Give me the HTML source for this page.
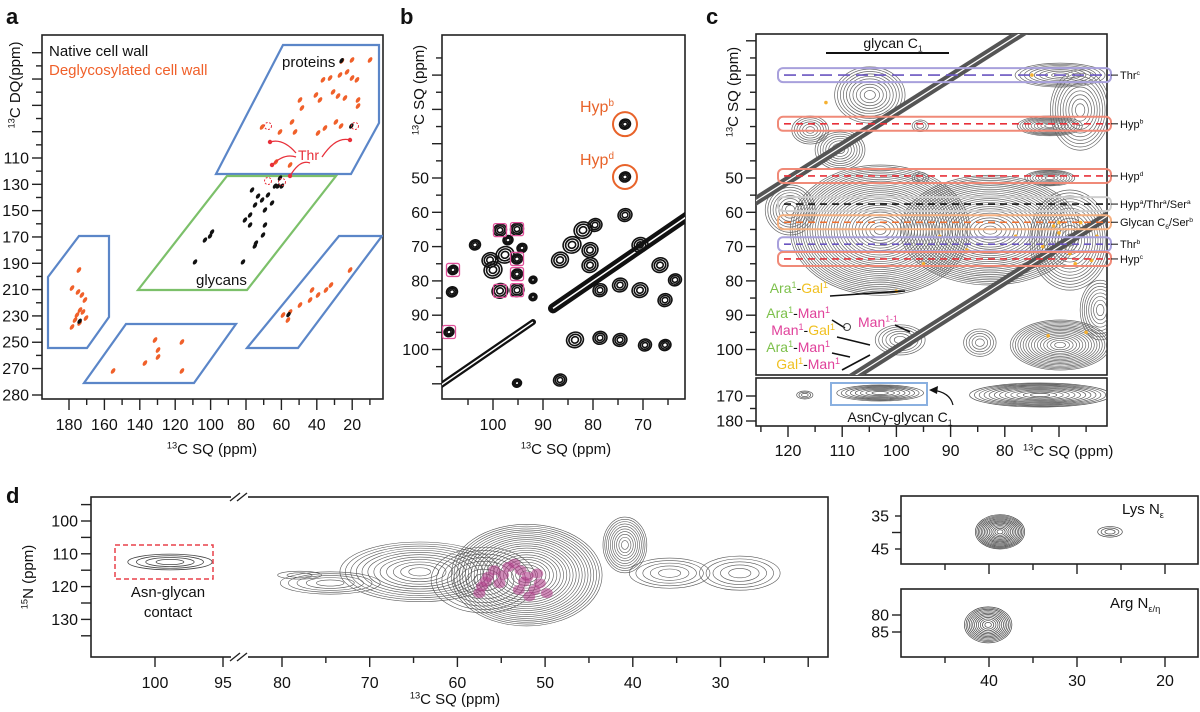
<!DOCTYPE html>
<html><head><meta charset="utf-8">
<style>
html,body{margin:0;padding:0;background:#fff;}
svg{display:block;font-family:"Liberation Sans",Arial,sans-serif;}
</style></head>
<body>
<svg id="fig" xmlns="http://www.w3.org/2000/svg" width="1200" height="712" viewBox="0 0 1200 712">
<defs>
<clipPath id="clipA"><rect x="42" y="35" width="341" height="364"/></clipPath>
<clipPath id="clipB"><rect x="442" y="35" width="243" height="364"/></clipPath>
<clipPath id="clipC"><rect x="756" y="34" width="351" height="341"/></clipPath>
<clipPath id="clipC2"><rect x="756" y="378" width="351" height="48"/></clipPath>
<clipPath id="clipD"><rect x="91" y="497" width="737" height="160"/></clipPath>
</defs>
<g id="panelA"></g>
<g id="panelB"></g>
<g id="panelC"></g>
<g id="panelD"></g>
<g id="panelE"></g>
</svg>
<script>
// ---------------- DATA ----------------
const aOrangeX = [25.8,20.1,9.9,36.5,32.5,26.9,22.9,20.1,17.3,30.8,28.0,24.1,40.5,49.5,48.4,38.2,16.7,16.7,54.0,29.2,26.3,35.4,52.3,60.8,39.3,70.9,63.1,55.1,
  174.4,178.3,174.9,172.7,171.0,173.8,175.5,172.1,170.4,176.6,174.0,178.3,
  59.1,55.1,49.5,43.8,39.3,34.8,32.0,42.7,21.2,56.3,
  131.4,129.7,116.2,129.7,155.1,116.2,137.1];
const aOrangeY = [36.3,35.5,35.5,50.6,49.2,46.9,44.6,49.2,50.6,59.8,62.9,64.4,62.1,65.9,72.0,65.9,65.9,70.5,82.6,82.6,85.7,87.2,90.2,90.2,91.0,86.4,113.0,115.3,
  195.1,208.8,211.8,214.1,217.9,225.5,229.3,227.0,231.6,233.1,235.4,238.4,
  229.3,227.0,221.7,217.9,214.1,210.3,206.5,210.3,195.1,233.1,
  248.3,255.9,249.8,261.2,271.1,271.1,265.8];
const aBlackX = [76.6,73.2,70.9,67.6,65.3,63.6,61.9,74.9,69.3,77.7,80.6,77.7,69.3,99.2,103.2,100.3,70.4,74.4,75.0,108.8,81.7,59.7,60.8,26.0,20.5,174.0,56.0];
const aBlackY = [134.3,138.9,141.9,138.1,144.2,131.3,131.3,145.7,149.5,153.3,157.1,160.9,160.9,166.2,172.3,169.3,168.5,174.6,176.9,189.0,189.0,131.3,125.2,36.0,85.7,234.0,229.0];
const aXTicks = [180,160,140,120,100,80,60,40,20];
const aXMinor = [170,150,130,110,90,70,50,30,10];
const aYTicks = [30,50,70,90,110,130,150,170,190,210,230,250,270,280];
const aYLabels = ["","","","","110","130","150","170","190","210","230","250","270","280"];
const bPeakX = [98.6,95.2,95.2,95.2,95.2,98.6,108,108.8,103.6,100.6,97.6,100,108.2,97,94.2,92,92,82,79.6,84.2,80.6,86.6,80.6,73.6,70.6,66.6,78.6,74.6,70.6,63.6,65.6,83.6,78.6,74.6,69.6,65.6,95.2,86.6,73.6,73.6];
const bPeakY = [65.2,64.9,73.6,78.0,82.7,82.9,76.8,94.9,69.5,73.9,72.4,76.8,83.2,68.1,70.4,79.7,84.7,65.2,63.7,69.5,71.0,73.9,75.4,60.8,69.5,75.4,82.7,81.2,82.7,79.7,85.6,97.2,96.6,97.2,98.7,98.7,109.8,108.9,34.3,49.7];
const bPeakSize = [1.3,1.3,1.1,1.1,1.4,1.6,1,1,1.1,1.6,1.8,1.8,1.1,1,1,0.8,0.8,1.8,1.4,1.8,1.6,1.7,1.6,1.4,1.6,1.6,1.4,1.5,1.6,1.3,1.4,1.7,1.4,1.4,1.3,1.2,0.9,1.3,1.1,1.1];
const bPink = [[98.6,65.2],[95.2,64.9],[95.2,73.6],[95.2,78.0],[95.2,82.7],[98.6,82.9],[108,76.8],[108.8,94.9]];
const bXTicks = [100,90,80,70];
const bXMinor = [105,95,85,75,65];
const bYTicks = [15,20,25,30,35,40,45,50,55,60,65,70,75,80,85,90,95,100,105,110];
const cPeakX = [115.9,104.9,110.4,95.6,95.6,71.7,71.7,69.8,66.1,103,82.7,68,119.6,69.8,62.4,99.3,84.6];
const cPeakY = [36.0,25.8,41.8,34.8,50,34.8,50,20,30.2,65.2,65.2,68.1,59.3,98.7,88.5,97.2,98.0];
const cPeakRX = [3.4,6.5,4.6,1.5,1.5,6,4.6,8.3,5.5,16.6,16.6,7.4,4.6,9.2,3.7,4.6,3];
const cPeakRY = [4.1,8.2,5.8,1.7,1.7,2.9,2.3,3.5,11.7,19,16,14.6,7.3,7.3,8.7,4.4,4];
const cPeakLv = [6,10,8,3,3,10,8,8,10,30,26,14,8,16,8,6,5];
const cLowX = [116.9,103,73.5];
const cLowY = [169.6,168.8,169.6];
const cLowRX = [1.5,8,13];
const cLowRY = [1.6,3.2,4.8];
const cLowLv = [3,8,12];
const cDotsX = [113,92,87,78,74,73,71,70,69,68,67,66,64,63,65,72,75,70,95,100];
const cDotsY = [28,67,71,67,73,70,64,66,70,72,75,63,74,67,95,96,20,63,75,83];
const cLines = ["Thr<sup>c</sup>","Hyp<sup>b</sup>","Hyp<sup>d</sup>","Hyp<sup>a</sup>/Thr<sup>a</sup>/Ser<sup>a</sup>","Glycan C<sub>6</sub>/Ser<sup>b</sup>","Thr<sup>b</sup>","Hyp<sup>c</sup>"];
const cLinePpm = [20,34.2,49.4,57.6,62.9,69.3,73.6];
const cXTicks = [120,110,100,90,80,70];
const cXMinor = [125,115,105,95,85,75,65];
const cYTicks = [10,15,20,25,30,35,40,45,50,55,60,65,70,75,80,85,90,95,100];
const dPeakX = [52.1,57.0,64.3,74.5,78.0,40.9,35.8,27.8];
const dPeakY = [116.5,118.0,115.5,118.9,116.5,107.3,115.9,115.9];
const dPeakRX = [8.6,6,9.1,5.7,2.5,2.5,4.6,4.6];
const dPeakRY = [15.5,10,9.1,3.4,1.2,8.5,4.6,5.2];
const dPeakLv = [22,8,12,5,2,10,5,5];
const dLeftX = [98.9], dLeftY = [112.5], dLeftRX = [3.1], dLeftRY = [2.4], dLeftLv = [4];
const dMagX = [56.5,57.2,55.8,57.5,56.8,55.2,52.0,51.2,52.8,54.2,50.6,53.5,51.8,52.4,50.9,53.0,54.8,49.8];
const dMagY = [117,120,115,122,118.5,119,117,121,115,114,119,113,123,118.5,116,121,116.5,122];
const dYTicks = [95,100,105,110,115,120,125,130,135];
const dXTicksR = [80,70,60,50,40,30,20];
const dXMinorR = [75,65,55,45,35,25];
const lysX = [38.75,26.25], lysY = [39.8,39.8], lysRX = [2.8,1.4], lysRY = [5.2,1.6], lysLv = [14,3];
const argX = [40.1], argY = [82.9], argRX = [2.7], argRY = [5.3], argLv = [12];
const eXTicks = [40,30,20], eXMinor = [45,35,25];

// ---------------- SCALES ----------------
const ax = v => 69 + (180 - v) * 1.77;
const ay = v => v <= 270 ? 158 + (v - 110) * 1.316 : 368 + (v - 270) * 2.7;
const bx = v => 493 + (100 - v) * 5;
const by = v => 178 + (v - 50) * 3.43;
const cx = v => 788 + (120 - v) * 5.42;
const cy = v => 178 + (v - 50) * 3.43;
const cy2 = v => 396 + (v - 170) * 2.5;
const dxL = v => 155 + (100 - v) * 13.6;
const dxR = v => 282 + (80 - v) * 8.77;
const dy = v => 521 + (v - 100) * 3.28;
const ex = v => 989 + (40 - v) * 8.8;
const etY = v => 516 + (v - 35) * 3.3;
const ebY = v => 615 + (v - 80) * 3.4;

// ---------------- HELPERS ----------------
const NS = "http://www.w3.org/2000/svg";
function mk(tag, attrs, parent) {
  const e = document.createElementNS(NS, tag);
  for (const k in attrs) e.setAttribute(k, attrs[k]);
  parent.appendChild(e);
  return e;
}
function txt(parent, x, y, html, size, color, anchor, extra) {
  const t = mk('text', Object.assign({x: x, y: y, 'font-size': size, fill: color || '#111', 'text-anchor': anchor || 'start'}, extra || {}), parent);
  const parts = html.split(/(<sup>.*?<\/sup>|<sub>.*?<\/sub>)/);
  parts.forEach(p => {
    if (!p) return;
    let s = mk('tspan', {}, t);
    if (p.startsWith('<sup>')) { s.textContent = p.slice(5, -6); s.setAttribute('font-size', size * 0.62); s.setAttribute('dy', -size * 0.38); const r = mk('tspan', {dy: size * 0.38, 'font-size': size}, t); r.textContent = '\u200b'; }
    else if (p.startsWith('<sub>')) { s.textContent = p.slice(5, -6); s.setAttribute('font-size', size * 0.62); s.setAttribute('dy', size * 0.25); const r = mk('tspan', {dy: -size * 0.25, 'font-size': size}, t); r.textContent = '\u200b'; }
    else s.textContent = p;
  });
  return t;
}
function contour(parent, x0, y0, rx, ry, lv, color, sw, rot) {
  for (let i = 0; i < lv; i++) {
    const f = Math.pow(1 - i / lv, 0.8);
    const e = mk('ellipse', {cx: x0, cy: y0, rx: Math.max(rx * f, 0.8), ry: Math.max(ry * f, 0.8), fill: 'none', stroke: color, 'stroke-width': sw, transform: 'rotate(' + (rot || 0) + ' ' + x0 + ' ' + y0 + ')'}, parent);
    
    
  }
}
function frame(parent, x, y, w, h, name) {
  const r = mk('rect', {x: x, y: y, width: w, height: h, fill: 'none', stroke: '#222', 'stroke-width': 1.6}, parent);
  
  
}
function xTicks(parent, vals, sc, y0, len, labels, ly, fs) {
  vals.forEach((v, i) => {
    const l = mk('line', {x1: sc(v), x2: sc(v), y1: y0, y2: y0 + len, stroke: '#222', 'stroke-width': 1.4}, parent);
    
    
    if (labels && labels[i] !== '') {
      const t = txt(parent, sc(v), ly, String(labels[i]), fs || 16, '#111', 'middle');
      
      
    }
  });
}
function yTicks(parent, vals, sc, x0, lenMaj, lenMin, labels, fs) {
  vals.forEach((v, i) => {
    const major = v % 10 === 0;
    const len = major ? lenMaj : lenMin;
    const l = mk('line', {x1: x0 - len, x2: x0, y1: sc(v), y2: sc(v), stroke: '#222', 'stroke-width': 1.4}, parent);
    
    
    if (labels && labels[i] !== undefined && labels[i] !== '') {
      const t = txt(parent, x0 - lenMaj - 3, sc(v) + 5.5, String(labels[i]), fs || 16, '#111', 'end');
      
      
    }
  });
}

// ---------------- PANEL A ----------------
const A = document.getElementById('panelA');
let t;
t = mk('text', {x: 6, y: 24, 'font-size': 22, 'font-weight': 'bold', fill: '#111'}, A); t.textContent = 'a';


t = txt(A, -85, 20, '<sup>13</sup>C DQ(ppm)', 15, '#111', 'middle', {transform: 'rotate(-90)'});


t = txt(A, 212, 454, '<sup>13</sup>C SQ (ppm)', 15, '#111', 'middle');


frame(A, 42, 35, 341, 364, 'plot-frame-a');
yTicks(A, aYTicks, ay, 42, 10, 10, aYLabels, 16);
const aMinorY = aYTicks.slice(0, -2).map(v => v + 10);
yTicks(A, aMinorY.map(v => v + 0.001), ay, 42, 6, 6, null);
xTicks(A, aXTicks, ax, 399, 11, aXTicks, 430, 16);
xTicks(A, aXMinor, ax, 399, 6, null);
const AC = mk('g', {'clip-path': 'url(#clipA)'}, A);
const polys = [
  ['protein-region', '#5b86c8', '216,174 283,45 379,45 379,123 351,174'],
  ['glycan-region', '#7cc06a', '138,290 227,176 336,176 247,290'],
  ['carbonyl-region', '#5b86c8', '48,277 48,348 87,348 109,317 109,236 79,236'],
  ['aromatic-region', '#5b86c8', '84,383 126,324 236,324 194,383'],
  ['aliphatic-region', '#5b86c8', '247,348 339,236 382,236 298,348']
];
polys.forEach(p => {
  const g = mk('polygon', {points: p[2], fill: 'none', stroke: p[1], 'stroke-width': 2.2}, AC);
  
  
});
aOrangeX.forEach((v, i) => {
  const e = mk('ellipse', {cx: ax(v), cy: ay(aOrangeY[i]), rx: 1.8, ry: 3.2, fill: '#f0602a', transform: 'rotate(35 ' + ax(v) + ' ' + ay(aOrangeY[i]) + ')'}, AC);
  
  
});
aBlackX.forEach((v, i) => {
  const e = mk('ellipse', {cx: ax(v), cy: ay(aBlackY[i]), rx: 1.8, ry: 3, fill: '#111', transform: 'rotate(35 ' + ax(v) + ' ' + ay(aBlackY[i]) + ')'}, AC);
  
  
});
t = txt(A, 49, 56, 'Native cell wall', 15, '#111');  
t = txt(A, 49, 75, 'Deglycosylated cell wall', 15, '#f0602a');  
t = txt(A, 282, 67, 'proteins', 15, '#111');  
t = txt(A, 196, 285, 'glycans', 15, '#111');  
t = txt(A, 298, 160, 'Thr', 14, '#e8303a');  
[[296,153,270,142],[296,157,272,165],[322,157,350,140],[310,163,290,176]].forEach(a => {
  const p = mk('path', {d: 'M' + a[0] + ',' + a[1] + ' Q' + ((a[0] + a[2]) / 2) + ',' + (Math.min(a[1], a[3]) - 4) + ' ' + a[2] + ',' + a[3], fill: 'none', stroke: '#e8303a', 'stroke-width': 1.3}, A);
  
  
  const h = mk('circle', {cx: a[2], cy: a[3], r: 2.2, fill: '#e8303a'}, A);
  
  
});
[[268,126],[355,126],[268,181],[282,182]].forEach(c => {
  const e = mk('circle', {cx: c[0], cy: c[1], r: 3.5, fill: 'none', stroke: '#e8303a', 'stroke-width': 1, 'stroke-dasharray': '2 1.5'}, A);
  
  
});

// ---------------- PANEL B ----------------
const B = document.getElementById('panelB');
t = mk('text', {x: 400, y: 24, 'font-size': 22, 'font-weight': 'bold', fill: '#111'}, B); t.textContent = 'b';


t = txt(B, -90, 424, '<sup>13</sup>C SQ (ppm)', 15, '#111', 'middle', {transform: 'rotate(-90)'});


t = txt(B, 566, 454, '<sup>13</sup>C SQ (ppm)', 15, '#111', 'middle');


frame(B, 442, 35, 243, 364, 'plot-frame-b');
yTicks(B, bYTicks, by, 442, 10, 6, bYTicks.map(v => (v >= 50 && v <= 100 && v % 10 === 0) ? v : ''), 16);
xTicks(B, bXTicks, bx, 399, 11, bXTicks, 430, 16);
xTicks(B, bXMinor, bx, 399, 6, null);
const BC = mk('g', {'clip-path': 'url(#clipB)'}, B);
const diag1 = mk('line', {x1: bx(111), y1: by(111), x2: bx(92), y2: by(92), stroke: '#111', 'stroke-width': 6, 'stroke-linecap': 'round'}, BC);


const diag2 = mk('line', {x1: bx(88), y1: by(88), x2: bx(58), y2: by(58), stroke: '#111', 'stroke-width': 10, 'stroke-linecap': 'round'}, BC);


[diag1, diag2].forEach(d => {
  const w = mk('line', {x1: d.getAttribute('x1'), y1: d.getAttribute('y1'), x2: d.getAttribute('x2'), y2: d.getAttribute('y2'), stroke: '#fff', 'stroke-width': 1.5}, BC);
  
  
});
bPeakX.forEach((v, i) => {
  const s = bPeakSize[i];
  contour(BC, bx(v), by(bPeakY[i]), 5 * s, 4.5 * s, 3, '#111', 1.6, -20);
});
bPink.forEach(p => {
  const r = mk('rect', {x: bx(p[0]) - 6.5, y: by(p[1]) - 6.5, width: 13, height: 13, rx: 2, fill: 'none', stroke: '#e0509a', 'stroke-width': 1.3}, BC);
  
  
});
[[34.3, 'Hyp<sup>b</sup>'], [49.7, 'Hyp<sup>d</sup>']].forEach(h => {
  const c = mk('circle', {cx: bx(73.6), cy: by(h[0]), r: 12, fill: 'none', stroke: '#e8632a', 'stroke-width': 2}, B);
  
  
  const tt = txt(B, 580, by(h[0]) - 12, h[1], 16, '#e8632a');
  
  
});

// ---------------- PANEL C ----------------
const C = document.getElementById('panelC');
t = mk('text', {x: 706, y: 24, 'font-size': 22, 'font-weight': 'bold', fill: '#111'}, C); t.textContent = 'c';


t = txt(C, -92, 738, '<sup>13</sup>C SQ (ppm)', 15, '#111', 'middle', {transform: 'rotate(-90)'});


frame(C, 756, 34, 351, 341, 'plot-frame-c');
frame(C, 756, 378, 351, 48, 'plot-frame-c-lower');
yTicks(C, cYTicks, cy, 756, 10, 6, cYTicks.map(v => (v >= 50 && v % 10 === 0) ? v : ''), 16);
yTicks(C, [170, 175, 180], cy2, 756, 10, 6, [170, '', 180], 16);
xTicks(C, cXTicks, cx, 426, 11, ['120', '110', '100', '90', '80', ''], 456, 16);
xTicks(C, cXMinor, cx, 426, 6, null);
t = txt(C, 1023, 456, '<sup>13</sup>C SQ (ppm)', 15, '#111', 'start');


const CC = mk('g', {'clip-path': 'url(#clipC)'}, C);
cPeakX.forEach((v, i) => {
  contour(CC, cx(v), cy(cPeakY[i]), cPeakRX[i] * 5.42, cPeakRY[i] * 3.43, cPeakLv[i], '#666', 0.7, 0);
});
cDotsX.forEach((v, i) => {
  const d = mk('circle', {cx: cx(v), cy: cy(cDotsY[i]), r: 1.8, fill: '#f5b030'}, CC);
  
  
});
[[0, 'diagonal-band'], [69.3, 'sideband-diagonal']].forEach(o => {
  const l = mk('line', {x1: cx(130), y1: cy(130 - o[0]), x2: cx(55), y2: cy(55 - o[0]), stroke: '#555', 'stroke-width': 9}, CC);
  
  
  const w = mk('line', {x1: cx(130), y1: cy(130 - o[0]), x2: cx(55), y2: cy(55 - o[0]), stroke: '#fff', 'stroke-width': 1.2}, CC);
  
  
});
const lineColors = ['#6a55c0', '#e8303a', '#e8303a', '#111', '#f07030', '#6a55c0', '#e8303a'];
const boxColors = ['#a8a0dc', '#f08a78', '#f08a78', '#cfcfcf', '#f5b080', '#a8a0dc', '#f08a78'];
cLinePpm.forEach((v, i) => {
  const y = cy(v);
  const r = mk('rect', {x: 778, y: y - 7, width: 333, height: 14, rx: 5, fill: 'none', stroke: boxColors[i], 'stroke-width': 2}, C);
  
  
  const l = mk('line', {x1: 784, x2: 1110, y1: y, y2: y, stroke: lineColors[i], 'stroke-width': 1.6, 'stroke-dasharray': i === 0 ? '12 6' : '7 5'}, C);
  
  
  const lk = mk('line', {x1: 1111, x2: 1118, y1: y, y2: y, stroke: '#111', 'stroke-width': 1}, C);
  
  
  const tt = txt(C, 1120, y + 4, cLines[i], 11, '#111');
  
  
});
const gl = mk('line', {x1: 826, x2: 949, y1: 53, y2: 53, stroke: '#111', 'stroke-width': 2}, C);


t = txt(C, 893, 48, 'glycan C<sub>1</sub>', 14, '#111', 'middle');


const G = '#7cc04a', Y = '#f0c020', P = '#e0409a';
const annot = [
  [293, [['Ara', G], ['Gal', Y]], 828, 296, 905, 291],
  [318, [['Ara', G], ['Man', P]], 830, 320, 845, 328],
  [335, [['Man', P], ['Gal', Y]], 835, 337, 870, 345],
  [352, [['Ara', G], ['Man', P]], 830, 353, 850, 357],
  [369, [['Gal', Y], ['Man', P]], 840, 370, 870, 355]
];
annot.forEach(a => {
  const tt = mk('text', {x: a[2], y: a[0], 'font-size': 14, 'text-anchor': 'end'}, C);
  
  
  a[1].forEach((p, k) => {
    const s1 = mk('tspan', {fill: p[1]}, tt); s1.textContent = p[0];
    const s2 = mk('tspan', {fill: p[1], 'font-size': 9, dy: -5}, tt); s2.textContent = '1';
    const s3 = mk('tspan', {fill: '#111', dy: 5}, tt); s3.textContent = k === 0 ? '-' : '\u200b';
  });
  const l = mk('line', {x1: a[2] + 2, y1: a[3], x2: a[4], y2: a[5], stroke: '#111', 'stroke-width': 1.6}, C);
  
  
});
const cc = mk('circle', {cx: 847, cy: 327, r: 3.5, fill: 'none', stroke: '#444', 'stroke-width': 1}, C);


t = txt(C, 858, 327, 'Man<sup>1-1</sup>', 14, P);


const ml = mk('line', {x1: 895, y1: 325, x2: 910, y2: 332, stroke: '#111', 'stroke-width': 1.6}, C);


const CC2 = mk('g', {'clip-path': 'url(#clipC2)'}, C);
cLowX.forEach((v, i) => contour(CC2, cx(v), cy2(cLowY[i]), cLowRX[i] * 5.42, cLowRY[i] * 2.5, cLowLv[i], '#555', 0.7, 0));
const ab = mk('rect', {x: 831, y: 383, width: 96, height: 22, fill: 'none', stroke: '#8ab0e0', 'stroke-width': 2}, C);


const ar = mk('path', {d: 'M953,405 Q950,392 932,390', fill: 'none', stroke: '#111', 'stroke-width': 1.2}, C);


const ah = mk('polygon', {points: '929,390 938,386 937,394', fill: '#111'}, C);


t = txt(C, 900, 422, 'AsnC\u03b3-glycan C<sub>1</sub>', 14, '#111', 'middle');



// ---------------- PANEL D ----------------
const D = document.getElementById('panelD');
t = mk('text', {x: 6, y: 503, 'font-size': 22, 'font-weight': 'bold', fill: '#111'}, D); t.textContent = 'd';


t = txt(D, -577, 33, '<sup>15</sup>N (ppm)', 15, '#111', 'middle', {transform: 'rotate(-90)'});


t = txt(D, 455, 704, '<sup>13</sup>C SQ (ppm)', 15, '#111', 'middle');


frame(D, 91, 497, 737, 160, 'plot-frame-d');
const gap = mk('rect', {x: 231, y: 490, width: 17, height: 175, fill: '#fff'}, D);


[497, 657].forEach(yy => {
  [230, 237].forEach(xx => {
    const l = mk('line', {x1: xx, y1: yy + 4, x2: xx + 10, y2: yy - 4, stroke: '#222', 'stroke-width': 1.4}, D);
    
    
  });
});
yTicks(D, dYTicks, dy, 91, 10, 10, dYTicks.map(v => (v >= 100 && v <= 130 && v % 10 === 0) ? v : ''), 16);
xTicks(D, [100, 95], dxL, 657, 10, [100, 95], 688, 16);
xTicks(D, dXTicksR, dxR, 657, 10, ['80', '70', '60', '50', '40', '30', ''], 688, 16);
xTicks(D, dXMinorR, dxR, 657, 6, null);
const DC = mk('g', {'clip-path': 'url(#clipD)'}, D);
dPeakX.forEach((v, i) => contour(DC, dxR(v), dy(dPeakY[i]), dPeakRX[i] * 8.77, dPeakRY[i] * 3.28, dPeakLv[i], '#555', 0.6, 0));
dLeftX.forEach((v, i) => contour(DC, dxL(v), dy(dLeftY[i]), dLeftRX[i] * 13.6, dLeftRY[i] * 3.28, dLeftLv[i], '#444', 0.8, 0));
dMagX.forEach((v, i) => {
  const m = mk('ellipse', {cx: dxR(v), cy: dy(dMagY[i]), rx: 6, ry: 5, fill: '#b0408a', opacity: 0.6}, DC);
  
  
});
const db = mk('rect', {x: 115, y: 545, width: 98, height: 34, fill: 'none', stroke: '#e8404a', 'stroke-width': 1.5, 'stroke-dasharray': '5 3'}, D);


t = txt(D, 168, 597, 'Asn-glycan', 15, '#111', 'middle');


t = txt(D, 168, 617, 'contact', 15, '#111', 'middle');



// ---------------- RIGHT SMALL PANELS ----------------
const E = document.getElementById('panelE');
frame(E, 901, 496, 297, 68, 'plot-frame-lys');
frame(E, 901, 589, 297, 68, 'plot-frame-arg');
yTicks(E, [35, 40, 45], etY, 901, 9, 6, [35, '', 45], 16);
yTicks(E, [80, 85], ebY, 901, 9, 9, [80, 85], 16);
xTicks(E, eXTicks, ex, 564, 10, null);
xTicks(E, eXMinor, ex, 564, 6, null);
xTicks(E, eXTicks, ex, 657, 10, eXTicks, 686, 16);
xTicks(E, eXMinor, ex, 657, 6, null);
lysX.forEach((v, i) => contour(E, ex(v), etY(lysY[i]), lysRX[i] * 8.8, lysRY[i] * 3.3, lysLv[i], '#444', 0.7, 0));
argX.forEach((v, i) => contour(E, ex(v), ebY(argY[i]), argRX[i] * 8.8, argRY[i] * 3.4, argLv[i], '#444', 0.7, 0));
t = txt(E, 1122, 514, 'Lys N<sub>\u03b5</sub>', 15, '#111');


t = txt(E, 1110, 608, 'Arg N<sub>\u03b5/\u03b7</sub>', 15, '#111');


</script>
</body></html>
